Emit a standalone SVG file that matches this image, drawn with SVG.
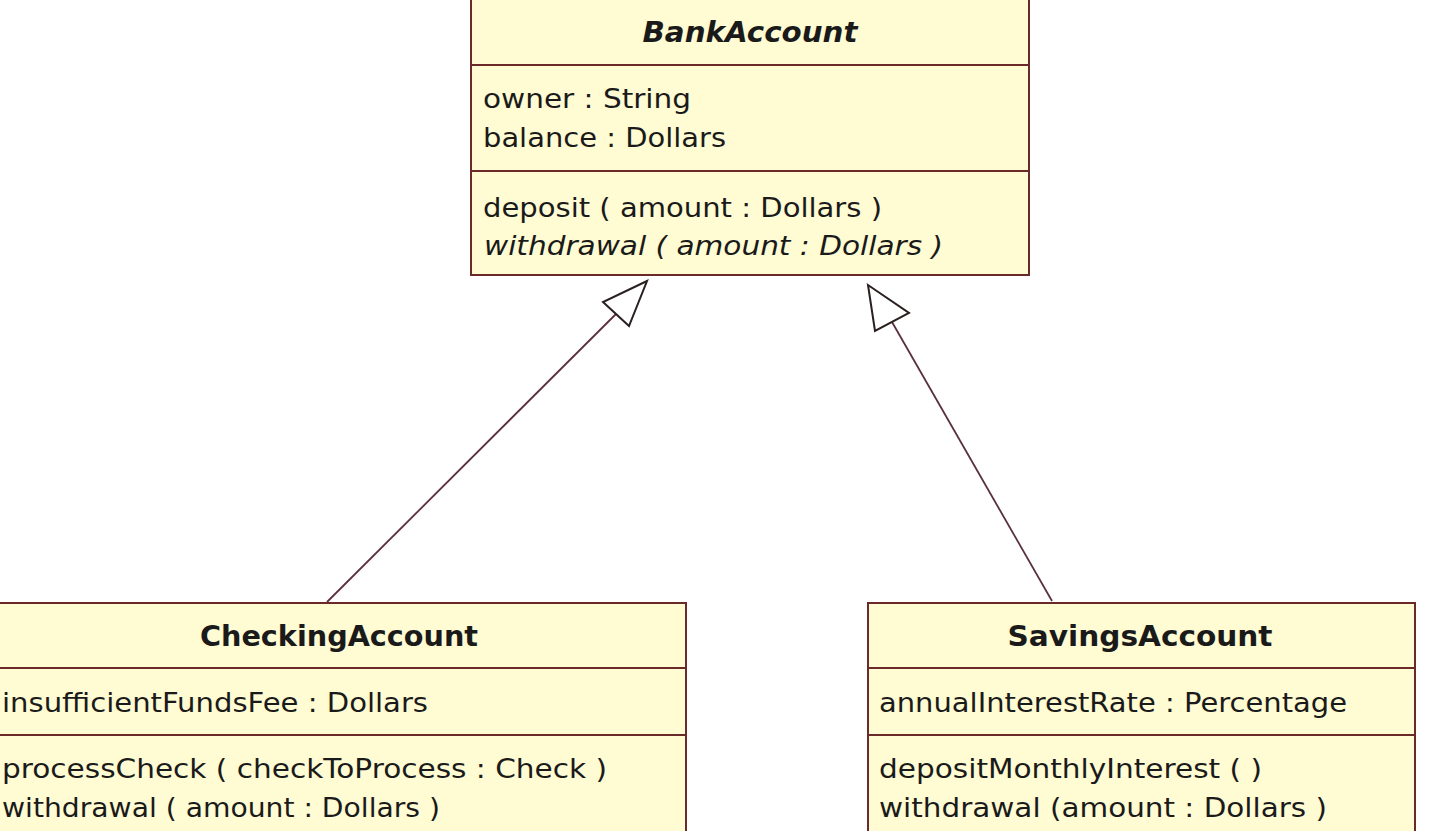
<svg xmlns="http://www.w3.org/2000/svg" width="1446" height="831" viewBox="0 0 1446 831">
<defs>
<style>
.box{fill:#FFFBD2;stroke:#6B2A2A;stroke-width:2}
.div{stroke:#6B2A2A;stroke-width:2}
.t{font-family:"DejaVu Sans","Liberation Sans",sans-serif;font-size:26px;fill:#1a1a1a}
.title{font-family:"DejaVu Sans","Liberation Sans",sans-serif;font-size:28px;font-weight:bold;fill:#1a1a1a;text-anchor:middle}
.it{font-style:italic}
.conn{stroke:#5a3040;stroke-width:1.8;fill:none}
.head{stroke:#2a2020;stroke-width:2;fill:#ffffff}
</style>
</defs>
<rect width="1446" height="831" fill="#ffffff"/>
<g id="connectors">
<line class="conn" x1="327" y1="602" x2="616" y2="314"/>
<polygon class="head" points="647,281 603,302 629,326"/>
<line class="conn" x1="1052" y1="601" x2="892" y2="322"/>
<polygon class="head" points="868,285 875,331 909,313"/>
</g>
<g id="BankAccount">
<rect class="box" x="471" y="-2" width="558" height="277"/>
<line class="div" x1="471" y1="65" x2="1029" y2="65"/>
<line class="div" x1="471" y1="171" x2="1029" y2="171"/>
<text class="title it" x="750" y="42" textLength="215" lengthAdjust="spacingAndGlyphs">BankAccount</text>
<text class="t" x="483" y="108" textLength="208" lengthAdjust="spacingAndGlyphs">owner : String</text>
<text class="t" x="483" y="147" textLength="243" lengthAdjust="spacingAndGlyphs">balance : Dollars</text>
<text class="t" x="483" y="217" textLength="399" lengthAdjust="spacingAndGlyphs">deposit ( amount : Dollars )</text>
<text class="t it" x="484" y="255" textLength="459" lengthAdjust="spacingAndGlyphs">withdrawal ( amount : Dollars )</text>
</g>
<g id="CheckingAccount">
<rect class="box" x="-2" y="603" width="688" height="240"/>
<line class="div" x1="-2" y1="668" x2="686" y2="668"/>
<line class="div" x1="-2" y1="735" x2="686" y2="735"/>
<text class="title" x="339" y="646" textLength="278" lengthAdjust="spacingAndGlyphs">CheckingAccount</text>
<text class="t" x="2" y="712" textLength="426" lengthAdjust="spacingAndGlyphs">insufficientFundsFee : Dollars</text>
<text class="t" x="2" y="778" textLength="605" lengthAdjust="spacingAndGlyphs">processCheck ( checkToProcess : Check )</text>
<text class="t" x="2" y="817" textLength="438" lengthAdjust="spacingAndGlyphs">withdrawal ( amount : Dollars )</text>
</g>
<g id="SavingsAccount">
<rect class="box" x="868" y="603" width="547" height="240"/>
<line class="div" x1="868" y1="668" x2="1415" y2="668"/>
<line class="div" x1="868" y1="735" x2="1415" y2="735"/>
<text class="title" x="1140" y="646" textLength="265" lengthAdjust="spacingAndGlyphs">SavingsAccount</text>
<text class="t" x="879" y="712" textLength="468" lengthAdjust="spacingAndGlyphs">annualInterestRate : Percentage</text>
<text class="t" x="879" y="778" textLength="383" lengthAdjust="spacingAndGlyphs">depositMonthlyInterest ( )</text>
<text class="t" x="879" y="817" textLength="448" lengthAdjust="spacingAndGlyphs">withdrawal (amount : Dollars )</text>
</g>
</svg>
